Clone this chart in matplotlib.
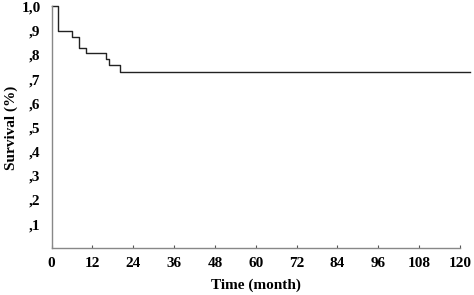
import matplotlib
matplotlib.use('Agg')
import matplotlib.pyplot as plt

# Kaplan-Meier steps
step_times = [0, 2, 6, 8, 10, 16, 17, 20, 123]
step_surv = [1.0, 0.9, 0.875, 0.827, 0.809, 0.784, 0.759, 0.73, 0.73]

x_ticks = [0, 12, 24, 36, 48, 60, 72, 84, 96, 108, 120]
y_ticks = [0.1, 0.2, 0.3, 0.4, 0.5, 0.6, 0.7, 0.8, 0.9, 1.0]
y_labels = [',1', ',2', ',3', ',4', ',5', ',6', ',7', ',8', ',9', '1,0']

plt.rcParams['font.family'] = 'Liberation Serif'
plt.rcParams['font.weight'] = 'bold'

fig = plt.figure(figsize=(4.74, 2.95), dpi=100)
ax = fig.add_axes([0.109, 0.158, 0.861, 0.820])

ax.step(step_times, step_surv, where='post', color='#222222', linewidth=1.0, clip_on=False)

ax.set_xlim(0, 120)
ax.set_ylim(0, 1.0)
ax.set_xticks(x_ticks)
ax.set_xticklabels([str(t) for t in x_ticks], fontsize=11, fontweight='bold')
ax.set_yticks(y_ticks)
ax.set_yticklabels(y_labels, fontsize=11, fontweight='bold')
ax.tick_params(axis='x', direction='in', length=2, color='#555555', pad=6)
ax.tick_params(axis='y', length=0, pad=8)

for side in ['top', 'right']:
    ax.spines[side].set_visible(False)
for side in ['left', 'bottom']:
    ax.spines[side].set_color('#888888')
    ax.spines[side].set_linewidth(1.0)

ax.set_xlabel('Time (month)', fontsize=11, fontweight='bold', labelpad=6)
ax.set_ylabel('Survival (%)', fontsize=11, fontweight='bold')
ax.yaxis.set_label_coords(-0.083, 0.5)

fig.savefig('out.png', dpi=100)
